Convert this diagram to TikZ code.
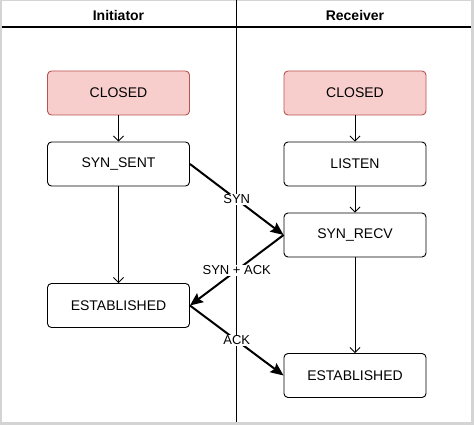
\documentclass[tikz,border=0pt]{standalone}
\usepackage{fontspec}
\setmainfont{Liberation Sans}
\usetikzlibrary{arrows.meta}

\definecolor{edgegray}{RGB}{212,212,212}
\definecolor{closedfill}{RGB}{248,206,204}
\definecolor{closedline}{RGB}{184,84,80}

\tikzset{
  state/.style={draw, rounded corners=4pt, minimum width=142pt, minimum height=44pt,
    inner sep=0pt, line width=0.9pt, font=\fontsize{14}{16}\selectfont},
  closedstate/.style={state, fill=closedfill, draw=closedline},
  lanehead/.style={font=\fontsize{14}{16}\selectfont\bfseries},
  stepline/.style={draw, line width=0.9pt, -{Straight Barb[length=5pt,width=10pt]}},
  msgline/.style={draw, line width=2pt, -{Stealth[length=13pt,width=11pt,inset=2pt]}},
  msglabel/.style={fill=white, inner sep=1pt, font=\fontsize{13}{15}\selectfont}
}

\begin{document}
\begin{tikzpicture}[x=1pt,y=1pt,yscale=-1]
    \useasboundingbox (0,0) rectangle (474,425);

    % lanes
    \fill[edgegray] (0,0) rectangle (474,425);
    \fill[white] (2,1) rectangle (471,422);
    \draw[line width=1.3pt] (2,27) -- (471,27);
    \draw[line width=0.9pt] (236,0) -- (236,422);

    % Text Node
    \node[lanehead] (inithead) at (118.5,15) {Initiator};
    % Text Node
    \node[lanehead] (recvhead) at (355,15) {Receiver};

    % initiator states
    \node[closedstate] (initclosed) at (118.5,93) {CLOSED};
    \node[state] (synsent) at (118.5,164) {SYN\_SENT};
    \node[state] (initest) at (118.5,305.5) {ESTABLISHED};

    % receiver states
    \node[closedstate] (recvclosed) at (355,93) {CLOSED};
    \node[state] (listen) at (355,164) {LISTEN};
    \node[state] (synrecv) at (355,235) {SYN\_RECV};
    \node[state] (recvest) at (355,375.5) {ESTABLISHED};

    % transitions
    \path[stepline] (initclosed) -- (synsent);
    \path[stepline] (synsent) -- (initest);
    \path[stepline] (recvclosed) -- (listen);
    \path[stepline] (listen) -- (synrecv);
    \path[stepline] (synrecv) -- (recvest);

    % messages
    \path[msgline] (synsent.east) -- node[msglabel] {SYN} (synrecv.west);
    \path[msgline] (synrecv.west) -- node[msglabel] {SYN + ACK} (initest.east);
    \path[msgline] (initest.east) -- node[msglabel] {ACK} (recvest.west);

\end{tikzpicture}
\end{document}
